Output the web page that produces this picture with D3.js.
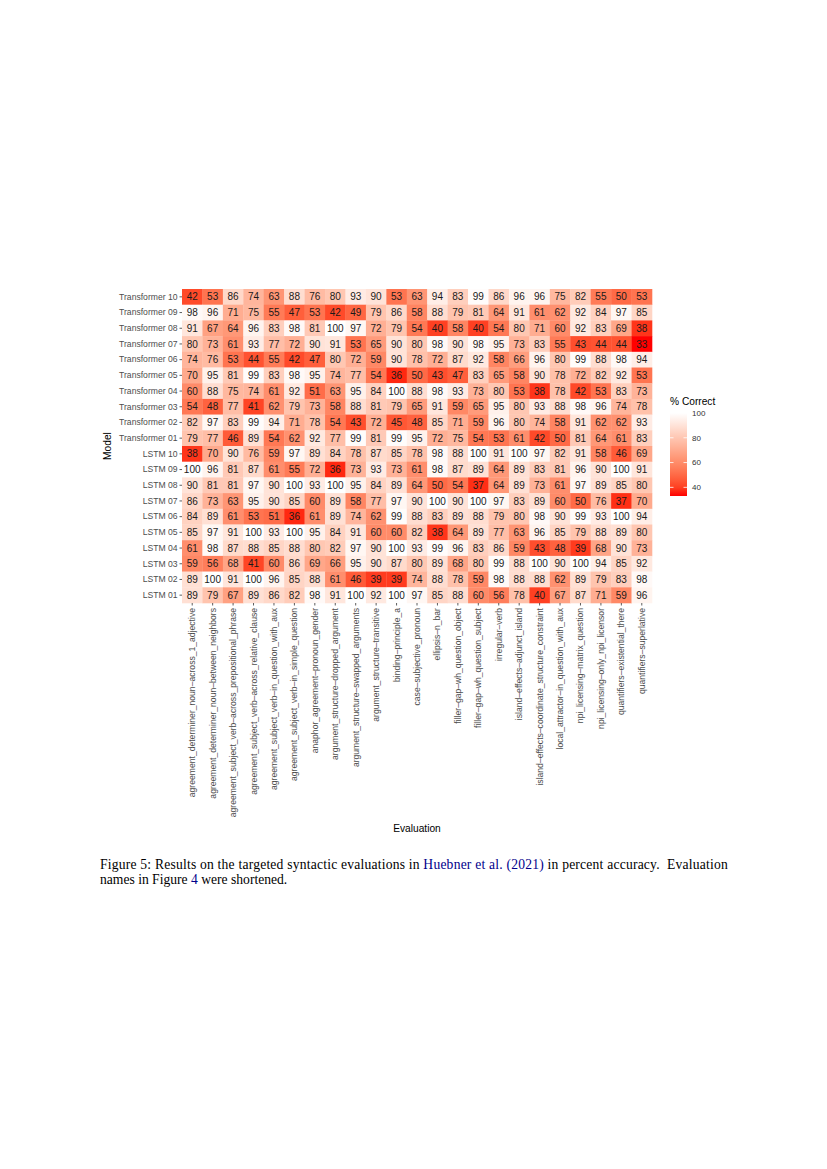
<!DOCTYPE html>
<html>
<head>
<meta charset="utf-8">
<script src="https://cdn.jsdelivr.net/npm/d3@7"></script>
<style>
  body { margin: 0; background: #fff; }
  svg { display: block; }
</style>
</head>
<body>
<script>
// data
const evaluations = [
  "agreement_determiner_noun\u2013across_1_adjective",
  "agreement_determiner_noun\u2013between_neighbors",
  "agreement_subject_verb\u2013across_prepositional_phrase",
  "agreement_subject_verb\u2013across_relative_clause",
  "agreement_subject_verb\u2013in_question_with_aux",
  "agreement_subject_verb\u2013in_simple_question",
  "anaphor_agreement\u2013pronoun_gender",
  "argument_structure\u2013dropped_argument",
  "argument_structure\u2013swapped_arguments",
  "argument_structure\u2013transitive",
  "binding\u2013principle_a",
  "case\u2013subjective_pronoun",
  "ellipsis\u2013n_bar",
  "filler\u2013gap\u2013wh_question_object",
  "filler\u2013gap\u2013wh_question_subject",
  "irregular\u2013verb",
  "island\u2013effects\u2013adjunct_island",
  "island\u2013effects\u2013coordinate_structure_constraint",
  "local_attractor\u2013in_question_with_aux",
  "npi_licensing\u2013matrix_question",
  "npi_licensing\u2013only_npi_licensor",
  "quantifiers\u2013existential_there",
  "quantifiers\u2013superlative"
];

const models = [
  "Transformer 10","Transformer 09","Transformer 08","Transformer 07","Transformer 06",
  "Transformer 05","Transformer 04","Transformer 03","Transformer 02","Transformer 01",
  "LSTM 10","LSTM 09","LSTM 08","LSTM 07","LSTM 06",
  "LSTM 05","LSTM 04","LSTM 03","LSTM 02","LSTM 01"
];

const scores = [
  [42,53,86,74,63,88,76,80,93,90,53,63,94,83,99,86,96,96,75,82,55,50,53],
  [98,96,71,75,55,47,53,42,49,79,86,58,88,79,81,64,91,61,62,92,84,97,85],
  [91,67,64,96,83,98,81,100,97,72,79,54,40,58,40,54,80,71,60,92,83,69,38],
  [80,73,61,93,77,72,90,91,53,65,90,80,98,90,98,95,73,83,55,43,44,44,33],
  [74,76,53,44,55,42,47,80,72,59,90,78,72,87,92,58,66,96,80,99,88,98,94],
  [70,95,81,99,83,98,95,74,77,54,36,50,43,47,83,65,58,90,78,72,82,92,53],
  [60,88,75,74,61,92,51,63,95,84,100,88,98,93,73,80,53,38,78,42,53,83,73],
  [54,48,77,41,62,79,73,58,88,81,79,65,91,59,65,95,80,93,88,98,96,74,78],
  [82,97,83,99,94,71,78,54,43,72,45,48,85,71,59,96,80,74,58,91,62,62,93],
  [79,77,46,89,54,62,92,77,99,81,99,95,72,75,54,53,61,42,50,81,64,61,83],
  [38,70,90,76,59,97,89,84,78,87,85,78,98,88,100,91,100,97,82,91,58,46,69],
  [100,96,81,87,61,55,72,36,73,93,73,61,98,87,89,64,89,83,81,96,90,100,91],
  [90,81,81,97,90,100,93,100,95,84,89,64,50,54,37,64,89,73,61,97,89,85,80],
  [86,73,63,95,90,85,60,89,58,77,97,90,100,90,100,97,83,89,60,50,76,37,70],
  [84,89,61,53,51,36,61,89,74,62,99,88,83,89,88,79,80,98,90,99,93,100,94],
  [85,97,91,100,93,100,95,84,91,60,60,82,38,64,89,77,63,96,85,79,88,89,80],
  [61,98,87,88,85,88,80,82,97,90,100,93,99,96,83,86,59,43,48,39,68,90,73],
  [59,56,68,41,60,86,69,66,95,90,87,80,89,68,80,99,88,100,90,100,94,85,92],
  [89,100,91,100,96,85,88,61,46,39,39,74,88,78,59,98,88,88,62,89,79,83,98],
  [89,79,67,89,86,82,98,91,100,92,100,97,85,88,60,56,78,40,67,87,71,59,96]
];

const legendTicks = [40, 60, 80, 100];

// flatten into cells
const cells = [];
models.forEach((m, i) => {
  evaluations.forEach((e, j) => {
    cells.push({model: m, evaluation: e, value: scores[i][j]});
  });
});

const W = 827, H = 1169;
const svg = d3.select('body').append('svg').attr('width', W).attr('height', H);

const x = d3.scaleBand().domain(evaluations).range([182, 652]);
const y = d3.scaleBand().domain(models).range([289, 603]);

const vmin = d3.min(cells, d => d.value), vmax = d3.max(cells, d => d.value);
const color = d3.scaleLinear().domain([vmin, vmax])
  .range(["#ff0000", "#ffffff"]).interpolate(d3.interpolateLab);

const sans = "'Liberation Sans', Arial, sans-serif";

// tiles
svg.append('g').selectAll('rect').data(cells).enter().append('rect')
  .attr('x', d => x(d.evaluation))
  .attr('y', d => y(d.model))
  .attr('width', x.bandwidth() + 0.3)
  .attr('height', y.bandwidth() + 0.3)
  .attr('fill', d => color(d.value));

svg.append('g').selectAll('text').data(cells).enter().append('text')
  .attr('x', d => x(d.evaluation) + x.bandwidth() / 2)
  .attr('y', d => y(d.model) + y.bandwidth() / 2)
  .attr('dy', '0.36em')
  .attr('text-anchor', 'middle')
  .style('font-family', sans)
  .style('font-size', '10px')
  .attr('fill', '#1a1a1a')
  .text(d => d.value);

// axes
const yAxis = svg.append('g').attr('transform', 'translate(182,0)')
  .call(d3.axisLeft(y).tickSize(2.5).tickPadding(2));
const xAxis = svg.append('g').attr('transform', 'translate(0,603)')
  .call(d3.axisBottom(x).tickSize(2.5).tickPadding(2));

[yAxis, xAxis].forEach(a => {
  a.select('.domain').remove();
  a.selectAll('line').attr('stroke', '#333').attr('stroke-width', 0.8);
  a.selectAll('text').attr('fill', '#4d4d4d')
    .style('font-family', sans).style('font-size', '8.6px');
});

xAxis.selectAll('text')
  .attr('transform', 'rotate(-90)')
  .attr('text-anchor', 'end')
  .attr('x', -5)
  .attr('y', 0)
  .attr('dy', '0.35em');

// axis titles
svg.append('text')
  .attr('transform', 'translate(111,446) rotate(-90)')
  .attr('text-anchor', 'middle')
  .style('font-family', sans).style('font-size', '10.2px')
  .text('Model');

svg.append('text')
  .attr('x', 417).attr('y', 832)
  .attr('text-anchor', 'middle')
  .style('font-family', sans).style('font-size', '10.2px')
  .text('Evaluation');

// legend
const lg = svg.append('g');
const legY = d3.scaleLinear().domain([vmin, vmax]).range([496, 413]);

const grad = svg.append('defs').append('linearGradient')
  .attr('id', 'grad').attr('x1', 0).attr('y1', 1).attr('x2', 0).attr('y2', 0);
d3.range(0, 1.0001, 0.1).forEach(t => {
  grad.append('stop').attr('offset', t)
    .attr('stop-color', color(vmin + t * (vmax - vmin)));
});

lg.append('rect')
  .attr('x', 670).attr('y', legY(vmax))
  .attr('width', 17).attr('height', legY(vmin) - legY(vmax))
  .attr('fill', 'url(#grad)');

legendTicks.forEach(t => {
  lg.append('line').attr('x1', 670).attr('x2', 673.5)
    .attr('y1', legY(t)).attr('y2', legY(t)).attr('stroke', '#fff').attr('stroke-width', 0.8);
  lg.append('line').attr('x1', 683.5).attr('x2', 687)
    .attr('y1', legY(t)).attr('y2', legY(t)).attr('stroke', '#fff').attr('stroke-width', 0.8);
  lg.append('text')
    .attr('x', 692).attr('y', legY(t)).attr('dy', '0.35em')
    .style('font-family', sans).style('font-size', '8px')
    .attr('fill', '#333')
    .text(t);
});

lg.append('text')
  .attr('x', 670).attr('y', 405)
  .style('font-family', sans).style('font-size', '10.2px')
  .text('% Correct');

// caption
const serif = "'Liberation Serif', 'Times New Roman', serif";
const capLines = [
  [['Figure 5: Results on the targeted syntactic evaluations in ', '#000'],
   ['Huebner et al. (2021)', '#00008b'],
   [' in percent accuracy.\u00a0 Evaluation', '#000']],
  [['names in Figure ', '#000'], ['4', '#00008b'], [' were shortened.', '#000']]
];
capLines.forEach((parts, li) => {
  const t = svg.append('text')
    .attr('x', 100).attr('y', 868.5 + li * 15.5)
    .style('font-family', serif).style('font-size', '13.6px');
  parts.forEach(p => t.append('tspan').attr('fill', p[1]).text(p[0]));
  if (li === 0) {
    // first line is justified to the text block width
    const len = t.node().getComputedTextLength();
    const n = parts.map(p => p[0]).join('').length;
    t.style('letter-spacing', Math.max(0, (628 - len) / n) + 'px');
  }
});
</script>
</body>
</html>
